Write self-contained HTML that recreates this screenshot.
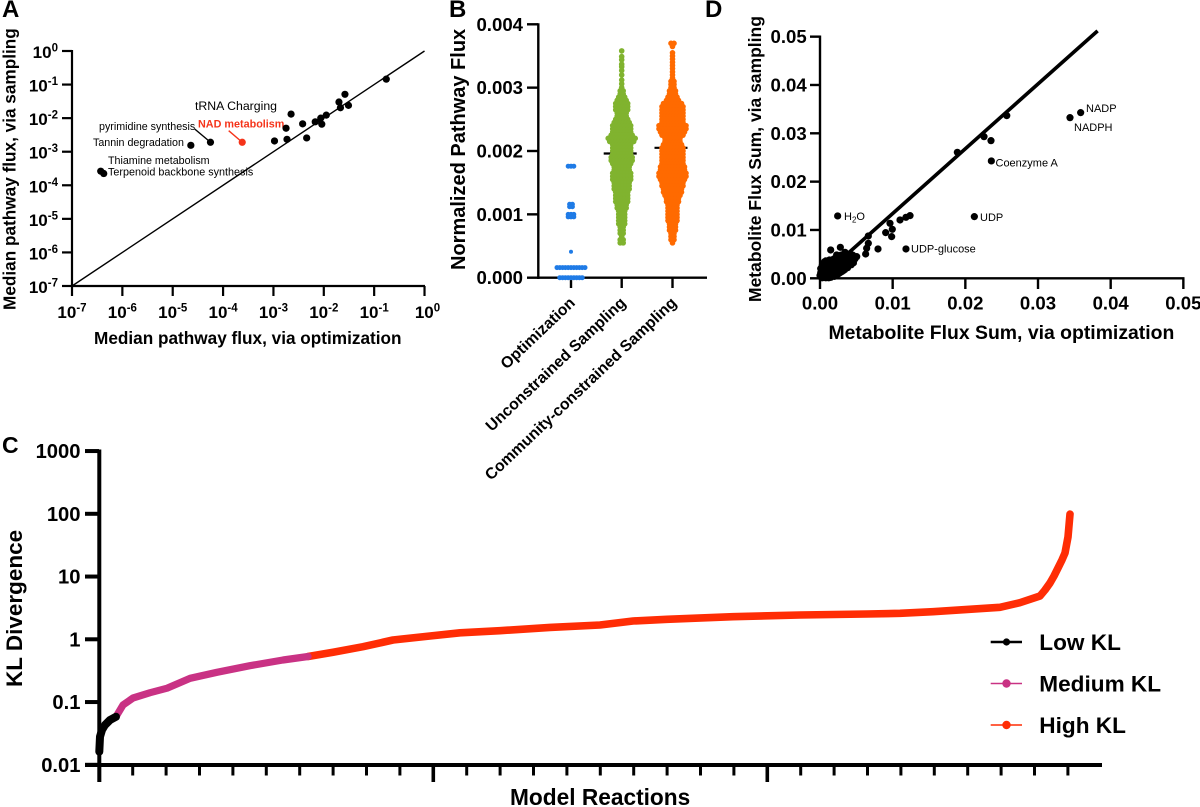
<!DOCTYPE html>
<html lang="en">
<head>
<meta charset="utf-8">
<title>Pathway flux and KL divergence figure</title>
<style>
html,body{margin:0;padding:0;background:#fff;width:1200px;height:807px;overflow:hidden}
svg{display:block}
text{font-family:"Liberation Sans",Arial,sans-serif;fill:#000}
.b{font-weight:bold}
</style>
</head>
<body>
<svg id="fig" xmlns="http://www.w3.org/2000/svg" width="1200" height="807" viewBox="0 0 1200 807">
<rect width="1200" height="807" fill="#fff"/>
<text class="b" x="2" y="17" font-size="24">A</text>
<text class="b" x="449" y="17" font-size="24">B</text>
<text class="b" x="2" y="453" font-size="23">C</text>
<text class="b" x="705" y="17" font-size="24">D</text>

<text class="b" x="94" y="344" font-size="17.2">Median pathway flux, via optimization</text>
<text class="b" transform="translate(15.5 310) rotate(-90)" font-size="17.2">Median pathway flux, via sampling</text>
<text x="195" y="110" font-size="12.3">tRNA Charging</text>
<text class="b" x="198" y="127.5" font-size="10.8" style="fill:#f5341a">NAD metabolism</text>
<text x="99" y="130" font-size="10.7">pyrimidine synthesis</text>
<text x="93" y="146" font-size="10.7">Tannin degradation</text>
<text x="108" y="164" font-size="10.7">Thiamine metabolism</text>
<text x="108" y="175.5" font-size="10.8">Terpenoid backbone synthesis</text>

<text class="b" transform="translate(465 270) rotate(-90)" font-size="20">Normalized Pathway Flux</text>

<text class="b" transform="translate(22 687) rotate(-90)" font-size="22.5">KL Divergence</text>
<text class="b" x="510" y="805" font-size="22.7">Model Reactions</text>

<text class="b" x="828.5" y="339" font-size="19.4">Metabolite Flux Sum, via optimization</text>
<text class="b" transform="translate(761 302) rotate(-90)" font-size="17.5">Metabolite Flux Sum, via sampling</text>
<text x="1086" y="112" font-size="11">NADP</text>
<text x="1074" y="131" font-size="11">NADPH</text>
<text x="995.5" y="166.5" font-size="11">Coenzyme A</text>
<text x="980" y="221" font-size="11">UDP</text>
<text x="844" y="220" font-size="11">H<tspan font-size="8" dy="2.5">2</tspan><tspan dy="-2.5">O</tspan></text>
<text x="911" y="252.5" font-size="11">UDP-glucose</text>
<g id="layer"></g>
</svg>
<script>
// ---------- Panel A data ----------
const pathwayOptimization = [0.174,0.0263,0.0200,0.0309,0.0214,0.0112,0.00224,0.0038,0.00178,0.00676,0.00871,0.00912,0.00457,0.00186,0.00105,0.0000562,0.0000229,0.000000372,0.000000427];
const pathwaySampling = [0.145,0.0513,0.0302,0.0240,0.0204,0.0123,0.0132,0.00676,0.00501,0.00776,0.01,0.00661,0.00257,0.00234,0.00209,0.00191,0.00155,0.000263,0.000224];
const nadOptimization = [0.00024];
const nadSampling = [0.00191];
const identityLine = [0.0000001,1];
const panelAExponents = [-7,-6,-5,-4,-3,-2,-1,0];

// ---------- Panel B data ----------
const fluxTicks = [0,0.001,0.002,0.003,0.004];
const fluxTickLabels = ["0.000","0.001","0.002","0.003","0.004"];
const methodNames = ["Optimization","Unconstrained Sampling","Community-constrained Sampling"];
const optimizationFlux = [0.00176,0.00116,0.00112,0.00100,0.00096,0.00041,0.00016,0];
const optimizationCounts = [3,2,2,3,3,1,11,9];
const unconstrainedFlux = [0.00358,0.00349,0.00344,0.00337,0.00333,0.00327,0.0032,0.00312,0.00306,0.003,0.00295,0.0029,0.00285,0.0028,0.00275,0.0027,0.00265,0.0026,0.00255,0.0025,0.00245,0.0024,0.00235,0.0023,0.00225,0.0022,0.00215,0.0021,0.00205,0.002,0.00195,0.0019,0.00185,0.0018,0.00175,0.0017,0.00165,0.0016,0.00155,0.0015,0.00145,0.0014,0.00135,0.0013,0.00125,0.0012,0.00115,0.0011,0.00105,0.001,0.00095,0.0009,0.00085,0.0008,0.00075,0.0007,0.00065,0.0006,0.00055];
const unconstrainedCounts = [1,1,1,1,1,1,1,1,1,1,2,2,3,4,5,5,5,4,4,5,6,7,7,7,8,10,9,7,7,7,7,8,8,7,6,6,7,7,7,6,6,6,5,5,5,5,4,4,3,3,3,3,3,2,2,2,1,2,2];
const communityFlux = [0.0037,0.00365,0.00355,0.0035,0.00345,0.0034,0.00335,0.0033,0.00325,0.0032,0.00315,0.0031,0.00305,0.003,0.00295,0.0029,0.00285,0.0028,0.00275,0.0027,0.00265,0.0026,0.00255,0.0025,0.00245,0.0024,0.00235,0.0023,0.00225,0.0022,0.00215,0.0021,0.00205,0.002,0.00195,0.0019,0.00185,0.0018,0.00175,0.0017,0.00165,0.0016,0.00155,0.0015,0.00145,0.0014,0.00135,0.0013,0.00125,0.0012,0.00115,0.0011,0.00105,0.001,0.00095,0.0009,0.00085,0.0008,0.00075,0.0007,0.00065,0.0006,0.00055];
const communityCounts = [2,1,1,1,1,1,1,1,1,1,1,2,2,2,3,3,4,5,7,8,8,8,8,8,8,10,10,9,8,6,6,7,8,8,8,8,8,8,9,9,10,10,9,8,8,7,7,6,5,5,4,4,4,4,4,4,3,3,3,2,2,2,1];
const methodMedians = [0.00016,0.00196,0.00205];

// ---------- Panel C data ----------
const lowRank = [0,10,40,85,160,250];
const lowKL = [0.0162,0.028,0.0359,0.043,0.0518,0.0585];
const mediumRank = [250,355,505,760,1015,1360,1760,2255,2750,3125];
const mediumKL = [0.0585,0.0897,0.116,0.141,0.166,0.239,0.298,0.379,0.468,0.532];
const highRank = [3125,3500,3948,4397,4951,5400,5999,6747,7495,7989,8498,9486,10489,11492,11986,12480,13483,13782,14082,14157,14232,14292,14352,14412,14457,14501,14531];
const highKL = [0.532,0.621,0.762,0.975,1.13,1.27,1.37,1.55,1.69,1.96,2.08,2.29,2.44,2.53,2.6,2.75,3.24,3.83,4.9,6.11,7.89,10.2,13.7,18.4,23.7,42.7,99];
const klTicks = [0.01,0.1,1,10,100,1000];
const klTickLabels = ["0.01","0.1","1","10","100","1000"];
const rankTicks = [0,500,1000,1500,2000,2500,3000,3500,4000,4500,5000,5500,6000,6500,7000,7500,8000,8500,9000,9500,10000,10500,11000,11500,12000,12500,13000,13500,14000,14500];
const legendNames = ["Low KL","Medium KL","High KL"];
const legendColors = ["#000000","#c93284","#ff2d05"];

// ---------- Panel D data ----------
const metaboliteOptimization = [0.03587,0.0344,0.0257,0.02353,0.02257,0.0189,0.02358,0.02124,0.00243,0.01183,0.01239,0.01183,0.01101,0.00963,0.00995,0.00904,0.00986,0.00665,0.00665,0.00628,0.00642,0.00798,0.00147,0.0028,0.00344,0.00229,0.00505,0.00436,0.0002,0.0003,0.0004,0.0005,0.0006,0.0007,0.0008,0.0009,0.001,0.0011,0.0012,0.0013,0.0014,0.0015,0.0016,0.0017,0.0018,0.0019,0.002,0.0021,0.0022,0.0024,0.0025,0.0026,0.0028,0.0029,0.003,0.0032,0.0033,0.0035,0.0036,0.0038,0.004,0.0042,0.0044,0.0046,0.0048,0.0002,0.0001,0.0003,0.0006,0.001,0.0014,0.0018,0.0022,0.0026,0.003,0.0034,0.0038,0.0004,0.0006,0.0008,0.001,0.0013,0.0016,0.0019,0.0022,0.0026,0.0029,0.0033,0.0037,0.004,0.0045,0.003,0.0034,0.004,0.0043,0.0036,0.0032,0.0028,0.0024,0.002,0.0015,0.0012,0.0008,0.0005,0.0003,0.0001,0.0001,0,0.0005,0.0008,0.0012,0.0016,0.002,0.0024,0.0027,0.0033];
const metaboliteSampling = [0.03428,0.03324,0.03366,0.02848,0.02931,0.02607,0.02428,0.01276,0.0129,0.00607,0.01297,0.01262,0.01207,0.01138,0.01014,0.00945,0.00862,0.00876,0.00724,0.00503,0.00621,0.00607,0.00586,0.00641,0.00538,0.00483,0.00448,0.0031,0.0003,0.0008,0.0012,0.0006,0.0018,0.0024,0.001,0.003,0.0015,0.0006,0.0034,0.0022,0.0012,0.0028,0.0008,0.0018,0.0032,0.0024,0.0012,0.003,0.0018,0.0036,0.0024,0.0014,0.003,0.002,0.0042,0.0034,0.0024,0.0046,0.003,0.004,0.0028,0.0036,0.0044,0.0032,0.004,0.0015,0.0005,0.0001,0.0002,0.0003,0.0005,0.0006,0.0009,0.001,0.0014,0.0018,0.0022,0.003,0.0034,0.0036,0.0035,0.0038,0.0037,0.004,0.0042,0.0044,0.0048,0.005,0.005,0.0045,0.0048,0.0036,0.004,0.0034,0.0028,0.0022,0.0016,0.0012,0.0008,0.0004,0.0002,0.0001,0.0001,0.0022,0.0026,0.002,0.0012,0.0006,0.0015,0.002,0.0026,0.0026,0.0022,0.0028,0.0035,0.0028];
const fitLineX = [0,0.0382];
const fitLineY = [0,0.0512];
const sumTicks = [0,0.01,0.02,0.03,0.04,0.05];
const sumTickLabels = ["0.00","0.01","0.02","0.03","0.04","0.05"];

// ---------- Axis functions ----------
const ax = v => 72 + (Math.log10(v) + 7) * 50.36;
const ay = v => 51 - Math.log10(v) * 33.57;
const by = v => 277.7 - v * 63350;
const bx = i => [571, 621.7, 672.5][i];
const cx = r => 99.3 + r / 500 * 33.4;
const cy = v => 639.3 - Math.log10(v) * 62.75;
const dx = v => 820 + v * 7267;
const dy = v => 278.3 - v * 4833;

// ---------- Drawing helpers ----------
const NS = "http://www.w3.org/2000/svg";
const layer = document.getElementById("layer");
function make(tag, props) {
  const el = document.createElementNS(NS, tag);
  for (const k in props) el.setAttribute(k, props[k]);
  layer.appendChild(el);
  return el;
}
function seg(x1, y1, x2, y2, w, color) {
  return make("line", {x1, y1, x2, y2, stroke: color || "#000", "stroke-width": w});
}
function dot(x, y, r, color) {
  return make("circle", {cx: x, cy: y, r, fill: color});
}
function label(x, y, size, anchor, str, bold) {
  const el = make("text", {x, y, "font-size": size, "text-anchor": anchor});
  if (bold !== false) el.setAttribute("class", "b");
  el.textContent = str;
  return el;
}
function powerLabel(x, y, anchor, exp) {
  const el = make("text", {x, y, "font-size": 17, "text-anchor": anchor, "class": "b"});
  const base = document.createElementNS(NS, "tspan");
  base.textContent = "10";
  el.appendChild(base);
  const sup = document.createElementNS(NS, "tspan");
  sup.setAttribute("font-size", "11.5");
  sup.setAttribute("dy", "-6.5");
  sup.textContent = String(exp);
  el.appendChild(sup);
  return el;
}

// ---------- Panel A ----------
let node = make("line", {x1: ax(identityLine[0]), y1: ay(identityLine[0]), x2: ax(identityLine[1]), y2: ay(identityLine[1]), stroke: "#000", "stroke-width": 1.4});


node = seg(72, 50, 72, 287, 2.2);


node = seg(71, 286, 425, 286, 2.2);


panelAExponents.forEach(e => {
  const v = Math.pow(10, e);
  let t = seg(ax(v), 286, ax(v), 296, 2.2);
  
  
  t = seg(62, ay(v), 72, ay(v), 2.2);
  
  
  t = powerLabel(ax(v) + (e === 0 ? 3 : 0), 318, "middle", e);
  
  
  t = powerLabel(58, ay(v) + 7, "end", e);
  
  
});
pathwayOptimization.forEach((v, i) => {
  const p = dot(ax(v), ay(pathwaySampling[i]), 3.6, "#000");
  
  
});
nadOptimization.forEach((v, i) => {
  const p = dot(ax(v), ay(nadSampling[i]), 3.6, "#f5341a");
  
  
  const lead = seg(228.7, 130.7, ax(v), ay(nadSampling[i]), 1.4, "#f5341a");
  
  
});
node = seg(194.7, 129, ax(pathwayOptimization[15]), ay(pathwaySampling[15]), 1.4);



// ---------- Panel B ----------
node = seg(538.3, 23.3, 538.3, 279, 2.4);


node = seg(537, 277.7, 707, 277.7, 2.4);


fluxTicks.forEach((v, i) => {
  let t = seg(527, by(v), 538, by(v), 2.4);
  
  
  t = label(523, by(v) + 6.5, 18.6, "end", fluxTickLabels[i]);
  
  
});
methodNames.forEach((name, i) => {
  let t = seg(bx(i), 277.7, bx(i), 288, 2.4);
  
  
  t = make("text", {"font-size": 15.8, "class": "b", "text-anchor": "end", transform: "translate(" + (bx(i) + 5) + " 304) rotate(-43.5)"});
  t.textContent = name;
  
  
  if (i > 0) {
    const m = seg(bx(i) - 18, by(methodMedians[i]), bx(i) + 15, by(methodMedians[i]), 2.2);
    
    
  }
});
function swarm(i, levels, counts, color, r, step, name) {
  levels.forEach((v, row) => {
    const n = counts[row];
    for (let k = 0; k < n; k++) {
      const rad = (n === 1 && levels === optimizationFlux) ? 2 : r;
      const p = dot(bx(i) + (k - (n - 1) / 2) * step, by(v), rad, color);
      
      
    }
  });
}
swarm(0, optimizationFlux, optimizationCounts, "#1f7be6", 2.5, 2.8, "optimization-point");
swarm(1, unconstrainedFlux, unconstrainedCounts, "#80b32f", 2.8, 3, "unconstrained-sampling-point");
swarm(2, communityFlux, communityCounts, "#ff6a00", 2.8, 3, "community-sampling-point");

// ---------- Panel C ----------
node = seg(99.3, 449.5, 99.3, 782, 4);


node = seg(85, 765, 1102, 765, 4);


klTicks.forEach((v, i) => {
  let t = seg(85, cy(v), 99, cy(v), 4);
  
  
  t = label(80.5, cy(v) + 7, 20.2, "end", klTickLabels[i]);
  
  
});
rankTicks.forEach(r => {
  const major = r % 5000 === 0;
  const t = seg(cx(r), 765, cx(r), major ? 782 : 775.5, major ? 3.6 : 3);
  
  
});
function curve(xs, ys, color, w) {
  const d = xs.map((x, i) => (i ? "L" : "M") + cx(x).toFixed(1) + " " + cy(ys[i]).toFixed(1)).join(" ");
  return make("path", {d, fill: "none", stroke: color, "stroke-width": w, "stroke-linecap": "round", "stroke-linejoin": "round"});
}
node = curve(highRank, highKL, legendColors[2], 7.6);


node = curve(mediumRank, mediumKL, legendColors[1], 7.2);


node = curve(lowRank, lowKL, legendColors[0], 8);


legendNames.forEach((name, i) => {
  const y = 642 + i * 41.5;
  let t = seg(990.7, y, 1022, y, i === 0 ? 2.4 : 1.6, legendColors[i]);
  
  
  t = dot(1006.5, y, i === 0 ? 3.6 : 4.2, legendColors[i]);
  
  
  t = label(1039.3, y + 7.8, 22.6, "start", name);
  
  
});

// ---------- Panel D ----------
node = make("line", {x1: dx(fitLineX[0]), y1: dy(fitLineY[0]), x2: dx(fitLineX[1]), y2: dy(fitLineY[1]), stroke: "#000", "stroke-width": 3.6});


node = seg(820, 35.5, 820, 280, 2.4);


node = seg(819, 278.3, 1184.5, 278.3, 2.4);


sumTicks.forEach((v, i) => {
  let t = seg(dx(v), 278.3, dx(v), 289, 2.4);
  
  
  t = seg(810, dy(v), 820, dy(v), 2.4);
  
  
  t = label(dx(v), 309.5, 18.6, "middle", sumTickLabels[i]);
  
  
  t = label(806.7, dy(v) + 6.5, 18.6, "end", sumTickLabels[i]);
  
  
});
metaboliteOptimization.forEach((v, i) => {
  const p = dot(dx(v), dy(metaboliteSampling[i]), 3.6, "#000");
  
  
});
</script>
</body>
</html>
